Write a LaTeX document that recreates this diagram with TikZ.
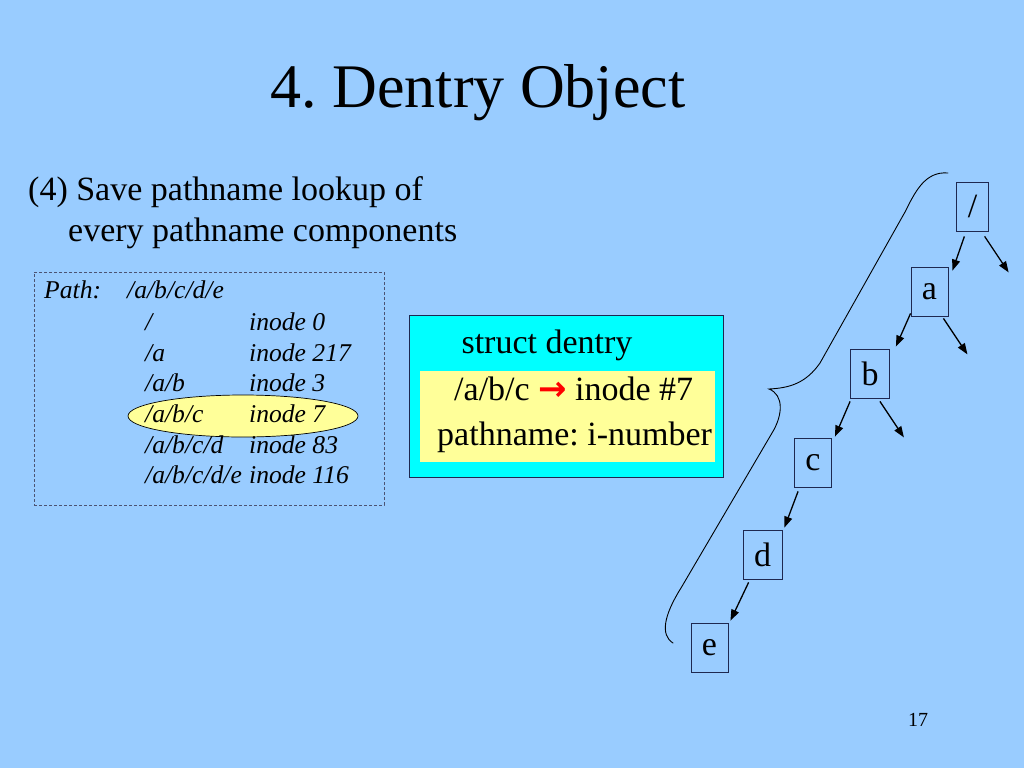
\documentclass[tikz,border=0pt]{standalone}
\usepackage{fontspec}
\setmainfont{Liberation Serif}
\newfontfamily\symbolfont{DejaVu Sans}
\usetikzlibrary{shapes.geometric,arrows.meta,positioning,calc}
\definecolor{slidecolor}{RGB}{153,204,255}
\definecolor{dentrycolor}{RGB}{0,255,255}
\definecolor{notecolor}{RGB}{255,255,153}
\definecolor{framecolor}{RGB}{30,40,80}
\frenchspacing

\begin{document}
\begin{tikzpicture}[
    x=1pt, y=-1pt,
    title/.style={font=\fontsize{62}{70}\selectfont, anchor=base, inner sep=0pt},
    body/.style={font=\fontsize{34}{40}\selectfont, anchor=base west, inner sep=0pt},
    entry/.style={font=\fontsize{25.6}{30}\selectfont\itshape, anchor=base west, inner sep=0pt},
    pathframe/.style={rectangle, draw=framecolor!80, dashed, dash pattern=on 3pt off 2pt, line width=.7pt},
    dentrybox/.style={rectangle, draw=framecolor, fill=dentrycolor, line width=.8pt, inner sep=0pt},
    notebox/.style={rectangle, fill=notecolor, inner sep=0pt},
    treebox/.style={rectangle, draw=framecolor, line width=.8pt, font=\fontsize{34}{40}\selectfont, minimum height=49pt, inner xsep=11pt, inner ysep=0pt},
    treeflow/.style={-{Triangle[length=11pt,width=8pt]}, line width=1.3pt},
    brace/.style={line width=.9pt, line cap=round}
]
    \fill[slidecolor] (0,0) rectangle (1024,768);

    \node[title] (heading) at (478,107) {4. Dentry Object};
    \node[body] (point) at (28,200) {(4) Save pathname lookup of};
    \node[body] (pointcont) at (68,241) {every pathname components};

    % path table
    \node[pathframe, minimum width=350, minimum height=233] (pathbox) at (209,388.5) {};
    \node[ellipse, draw=black, fill=notecolor, line width=.7pt, minimum width=230, minimum height=42] (hilite) at (243,416) {};
    \node[entry] (pathlabel) at (44,298) {Path:};
    \node[entry] (pathfull) at (127,298) {/a/b/c/d/e};
    \node[entry] (p0) at (145,330) {/};
    \node[entry] (n0) at (249,330) {inode 0};
    \node[entry] (p1) at (145,361) {/a};
    \node[entry] (n1) at (249,361) {inode 217};
    \node[entry] (p2) at (145,391) {/a/b};
    \node[entry] (n2) at (249,391) {inode 3};
    \node[entry] (p3) at (145,422) {/a/b/c};
    \node[entry] (n3) at (249,422) {inode 7};
    \node[entry] (p4) at (145,453) {/a/b/c/d};
    \node[entry] (n4) at (249,453) {inode 83};
    \node[entry] (p5) at (145,483) {/a/b/c/d/e};
    \node[entry] (n5) at (249,483) {inode 116};

    % struct dentry
    \node[dentrybox, minimum width=314, minimum height=162] (dentry) at (566,396) {};
    \node[notebox, minimum width=295, minimum height=91] (dnote) at (567.5,416.5) {};
    \node[body, anchor=base] (dname) at (547,353) {struct dentry};
    \node[body] (dpath) at (454,400) {/a/b/c {\color{red}\symbolfont\bfseries →} inode \#7};
    \node[body] (dform) at (437,445) {pathname: i-number};

    % directory tree
    \node[treebox] (root) at (972.5,206.5) {/};
    \node[treebox] (a) at (929.5,291.5) {a};
    \node[treebox] (b) at (870,373.5) {b};
    \node[treebox] (c) at (813,462.5) {c};
    \node[treebox] (d) at (762.5,554.5) {d};
    \node[treebox] (e) at (709.5,647.5) {e};

    \coordinate (rootfree) at ([shift={(20,41)}]root.south east);
    \coordinate (afree) at ([shift={(19,38)}]a.south east);
    \coordinate (bfree) at ([shift={(14,39)}]b.south east);

    \draw[treeflow] ([shift={(8,5)}]root.south west) -- ([shift={(4,4)}]a.north east);
    \draw[treeflow] ([shift={(-4,5)}]root.south east) -- (rootfree);
    \draw[treeflow] ([shift={(0,-3)}]a.south west) -- ([shift={(6,-2)}]b.north east);
    \draw[treeflow] ([shift={(-5,2)}]a.south east) -- (afree);
    \draw[treeflow] ([shift={(0,3)}]b.south west) -- ([shift={(3,-1)}]c.north east);
    \draw[treeflow] ([shift={(-10,3)}]b.south east) -- (bfree);
    \draw[treeflow] ([shift={(4,4)}]c.south west) -- ([shift={(2,-2)}]d.north east);
    \draw[treeflow] ([shift={(6,3)}]d.south west) -- ([shift={(2,-2)}]e.north east);

    % brace over the path
    \draw[brace] (948,173) .. controls (925,171) and (915,192) .. (905,212)
        -- (820,363) .. controls (806,383) and (790,388) .. (769,389)
        .. controls (784,395) and (783,415) .. (772,433)
        -- (681,588) .. controls (664,615) and (660,635) .. (673,643);

    \node[font=\fontsize{20}{24}\selectfont, anchor=base] (pageno) at (918,726) {17};
\end{tikzpicture}
\end{document}
